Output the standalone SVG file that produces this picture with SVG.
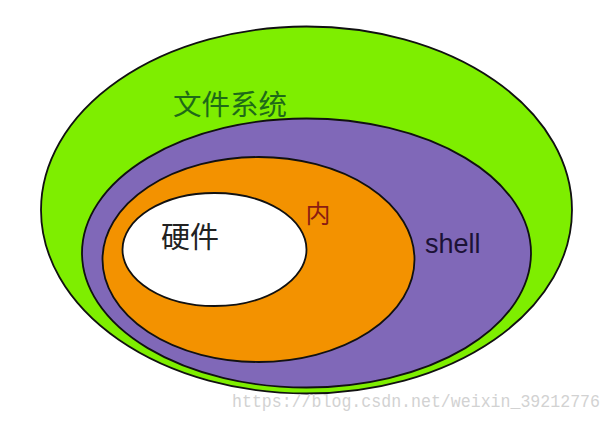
<svg xmlns="http://www.w3.org/2000/svg" width="612" height="421" viewBox="0 0 612 421">
<style>
.ring{stroke:#111;stroke-width:1.8}
.cjk{font-family:"Noto Sans CJK SC","Liberation Sans",sans-serif}
</style>
<rect width="612" height="421" fill="#fff"/>
<g id="fs">
<ellipse class="ring" cx="306.5" cy="210" rx="265.5" ry="183.5" fill="#7eee00"/>
<text class="cjk" x="173" y="115" font-size="28.5" fill="#1e6a18">文件系统</text>
</g>
<g id="shell">
<ellipse class="ring" cx="306.5" cy="253" rx="224.5" ry="134.5" fill="#8068b8"/>
<text x="425" y="253" font-family="Liberation Sans, sans-serif" font-size="27" fill="#1c1236">shell</text>
</g>
<g id="kernel">
<ellipse class="ring" cx="258.5" cy="259.5" rx="156" ry="102.5" fill="#f39200"/>
<text class="cjk" x="305.5" y="223" font-size="25" fill="#8a1c12">内</text>
</g>
<g id="hw">
<ellipse class="ring" cx="214.5" cy="249.5" rx="92" ry="56.5" fill="#fff"/>
<text class="cjk" x="161" y="248" font-size="29" fill="#222">硬件</text>
</g>
<text x="232" y="407" font-family="Liberation Mono, monospace" font-size="17.5" fill="#d2d2d2" textLength="368" lengthAdjust="spacingAndGlyphs">https://blog.csdn.net/weixin_39212776</text>
</svg>
